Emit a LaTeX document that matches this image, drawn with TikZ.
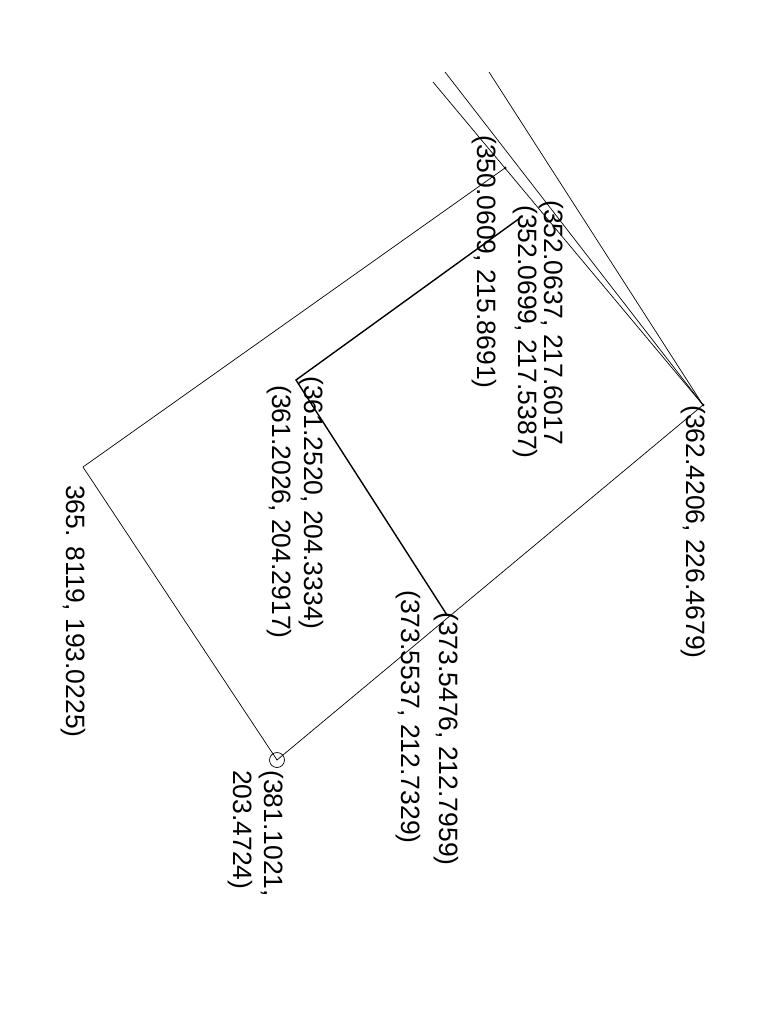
\documentclass[tikz,border=0pt]{standalone}
\usepackage{fontspec}
\setmainfont{Liberation Sans}
\begin{document}
\begin{tikzpicture}[x=1pt,y=-1pt,
  lbl/.style={rotate=-90,anchor=north west,inner sep=0pt,font=\fontsize{26.5}{31}\selectfont,align=left},
  thin/.style={line width=0.7pt},
  thick2/.style={line width=1.4pt}]
\useasboundingbox (0,0) rectangle (768,1024);
\coordinate (T1) at (433,82);
\coordinate (T2) at (445,72);
\coordinate (T3) at (489,72);
\coordinate (A) at (505,168);
\coordinate (B) at (520,218);
\coordinate (C) at (703,405);
\coordinate (D) at (296,380);
\coordinate (E) at (447,615);
\coordinate (G) at (83,467);
\node[circle,draw,thin,minimum size=15pt,inner sep=0pt] (F) at (277,760) {};
\draw[thin] (T1) -- (C);
\draw[thin] (T2) -- (C);
\draw[thin] (T3) -- (C);
\draw[thin] (A) -- (G) -- (F.center) -- (C);
\draw[thick2] (B) -- (D) -- (E);
\fill (A) circle (1.5pt);
\fill (C) circle (1.5pt);
\node[lbl] (l1) at (497,135) {(350.0609, 215.8691)};
\node[lbl] (l2) at (564,200) {(352.0637, 217.6017};
\node[lbl] (l3) at (538,205) {(352.0699, 217.5387)};
\node[lbl] (l4) at (706,405) {(362.4206, 226.4679)};
\node[lbl] (l5) at (324,376) {(361.2520, 204.3334)};
\node[lbl] (l6) at (292,385) {(361.2026, 204.2917)};
\node[lbl] (l7) at (459,612) {(373.5476, 212.7959)};
\node[lbl] (l8) at (421,590) {(373.5537, 212.7329)};
\node[lbl] (l9) at (284,770) {(381.1021,\\203.4724)};
\node[lbl] (l10) at (86,485) {365. 8119, 193.0225)};
\end{tikzpicture}
\end{document}
